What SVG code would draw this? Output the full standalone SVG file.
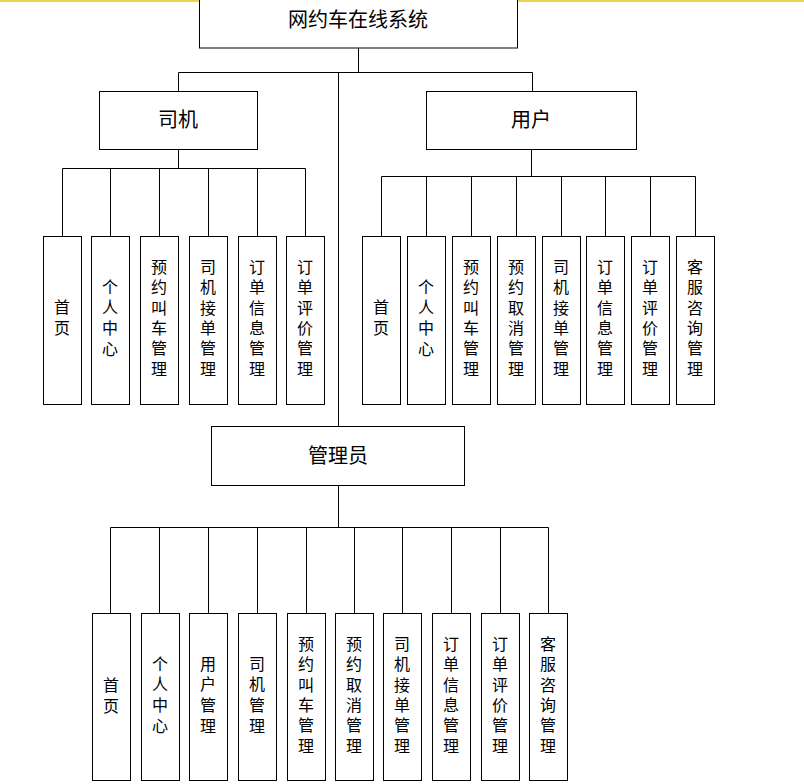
<svg xmlns="http://www.w3.org/2000/svg" width="804" height="784" viewBox="0 0 804 784">
<style>
rect{fill:#fff;stroke:#000;stroke-width:1}
text{font-family:"Noto Sans CJK SC",sans-serif;font-size:16px;text-anchor:middle;fill:#000}
.big{font-size:20px}
#conn path{fill:none;stroke:#000;stroke-width:1}
</style>
<rect x="0" y="0" width="804" height="784" style="stroke:none"/>
<line x1="0" y1="1" x2="804" y2="1" stroke="#e8d44d" stroke-width="2"/>
<g id="conn">
<path d="M358.5 48V72.5M178.5 72.5H532.5M178.5 72.5V91M532.5 72.5V91M338.5 72.5V426"/>
<path d="M178.5 149V168.5M62.5 168.5H305.5M62.5 168.5V236M110.5 168.5V236M159.5 168.5V236M208.5 168.5V236M257.5 168.5V236M305.5 168.5V236"/>
<path d="M531.5 149V176.5M381.5 176.5H695.5M381.5 176.5V236M426.5 176.5V236M471.5 176.5V236M516.5 176.5V236M561.5 176.5V236M605.5 176.5V236M650.5 176.5V236M695.5 176.5V236"/>
<path d="M338.5 485V527.5M110.5 527.5H548.5M110.5 527.5V613M159.5 527.5V613M208.5 527.5V613M257.5 527.5V613M306.5 527.5V613M354.5 527.5V613M402.5 527.5V613M451.5 527.5V613M500.5 527.5V613M548.5 527.5V613"/>
</g>
<g id="root"><rect x="199.5" y="-1" width="318" height="49"/><text class="big" x="358" y="27">网约车在线系统</text></g>
<g id="driver"><rect x="99.5" y="91.5" width="158" height="58"/><text class="big" x="178" y="127">司机</text></g>
<g id="user"><rect x="426.5" y="91.5" width="210" height="58"/><text class="big" x="531" y="127">用户</text></g>
<g id="admin"><rect x="211.5" y="426.5" width="253" height="59"/><text class="big" x="338" y="463">管理员</text></g>
<g id="d1"><rect x="43.5" y="236.5" width="38" height="168"/><text x="62" y="313">首</text><text x="62" y="334">页</text></g>
<g id="d2"><rect x="91.5" y="236.5" width="38" height="168"/><text x="110" y="293">个</text><text x="110" y="313">人</text><text x="110" y="334">中</text><text x="110" y="355">心</text></g>
<g id="d3"><rect x="140.5" y="236.5" width="38" height="168"/><text x="159" y="273">预</text><text x="159" y="293">约</text><text x="159" y="314">叫</text><text x="159" y="334">车</text><text x="159" y="354">管</text><text x="159" y="375">理</text></g>
<g id="d4"><rect x="189.5" y="236.5" width="38" height="168"/><text x="208" y="273">司</text><text x="208" y="293">机</text><text x="208" y="314">接</text><text x="208" y="334">单</text><text x="208" y="354">管</text><text x="208" y="375">理</text></g>
<g id="d5"><rect x="238.5" y="236.5" width="38" height="168"/><text x="257" y="273">订</text><text x="257" y="293">单</text><text x="257" y="314">信</text><text x="257" y="334">息</text><text x="257" y="354">管</text><text x="257" y="375">理</text></g>
<g id="d6"><rect x="286.5" y="236.5" width="38" height="168"/><text x="305" y="273">订</text><text x="305" y="293">单</text><text x="305" y="314">评</text><text x="305" y="334">价</text><text x="305" y="354">管</text><text x="305" y="375">理</text></g>
<g id="u1"><rect x="362.5" y="236.5" width="38" height="168"/><text x="381" y="313">首</text><text x="381" y="334">页</text></g>
<g id="u2"><rect x="407.5" y="236.5" width="38" height="168"/><text x="426" y="293">个</text><text x="426" y="313">人</text><text x="426" y="334">中</text><text x="426" y="355">心</text></g>
<g id="u3"><rect x="452.5" y="236.5" width="38" height="168"/><text x="471" y="273">预</text><text x="471" y="293">约</text><text x="471" y="314">叫</text><text x="471" y="334">车</text><text x="471" y="354">管</text><text x="471" y="375">理</text></g>
<g id="u4"><rect x="497.5" y="236.5" width="38" height="168"/><text x="516" y="273">预</text><text x="516" y="293">约</text><text x="516" y="314">取</text><text x="516" y="334">消</text><text x="516" y="354">管</text><text x="516" y="375">理</text></g>
<g id="u5"><rect x="542.5" y="236.5" width="38" height="168"/><text x="561" y="273">司</text><text x="561" y="293">机</text><text x="561" y="314">接</text><text x="561" y="334">单</text><text x="561" y="354">管</text><text x="561" y="375">理</text></g>
<g id="u6"><rect x="586.5" y="236.5" width="38" height="168"/><text x="605" y="273">订</text><text x="605" y="293">单</text><text x="605" y="314">信</text><text x="605" y="334">息</text><text x="605" y="354">管</text><text x="605" y="375">理</text></g>
<g id="u7"><rect x="631.5" y="236.5" width="38" height="168"/><text x="650" y="273">订</text><text x="650" y="293">单</text><text x="650" y="314">评</text><text x="650" y="334">价</text><text x="650" y="354">管</text><text x="650" y="375">理</text></g>
<g id="u8"><rect x="676.5" y="236.5" width="38" height="168"/><text x="695" y="273">客</text><text x="695" y="293">服</text><text x="695" y="314">咨</text><text x="695" y="334">询</text><text x="695" y="354">管</text><text x="695" y="375">理</text></g>
<g id="a1"><rect x="92.5" y="613.5" width="38" height="167"/><text x="111" y="691">首</text><text x="111" y="712">页</text></g>
<g id="a2"><rect x="141.5" y="613.5" width="38" height="167"/><text x="160" y="670">个</text><text x="160" y="690">人</text><text x="160" y="711">中</text><text x="160" y="732">心</text></g>
<g id="a3"><rect x="189.5" y="613.5" width="38" height="167"/><text x="208" y="670">用</text><text x="208" y="690">户</text><text x="208" y="711">管</text><text x="208" y="732">理</text></g>
<g id="a4"><rect x="238.5" y="613.5" width="38" height="167"/><text x="257" y="670">司</text><text x="257" y="690">机</text><text x="257" y="711">管</text><text x="257" y="732">理</text></g>
<g id="a5"><rect x="287.5" y="613.5" width="38" height="167"/><text x="306" y="650">预</text><text x="306" y="670">约</text><text x="306" y="691">叫</text><text x="306" y="711">车</text><text x="306" y="731">管</text><text x="306" y="752">理</text></g>
<g id="a6"><rect x="335.5" y="613.5" width="38" height="167"/><text x="354" y="650">预</text><text x="354" y="670">约</text><text x="354" y="691">取</text><text x="354" y="711">消</text><text x="354" y="731">管</text><text x="354" y="752">理</text></g>
<g id="a7"><rect x="383.5" y="613.5" width="38" height="167"/><text x="402" y="650">司</text><text x="402" y="670">机</text><text x="402" y="691">接</text><text x="402" y="711">单</text><text x="402" y="731">管</text><text x="402" y="752">理</text></g>
<g id="a8"><rect x="432.5" y="613.5" width="38" height="167"/><text x="451" y="650">订</text><text x="451" y="670">单</text><text x="451" y="691">信</text><text x="451" y="711">息</text><text x="451" y="731">管</text><text x="451" y="752">理</text></g>
<g id="a9"><rect x="481.5" y="613.5" width="38" height="167"/><text x="500" y="650">订</text><text x="500" y="670">单</text><text x="500" y="691">评</text><text x="500" y="711">价</text><text x="500" y="731">管</text><text x="500" y="752">理</text></g>
<g id="a10"><rect x="529.5" y="613.5" width="38" height="167"/><text x="548" y="650">客</text><text x="548" y="670">服</text><text x="548" y="691">咨</text><text x="548" y="711">询</text><text x="548" y="731">管</text><text x="548" y="752">理</text></g>
</svg>
